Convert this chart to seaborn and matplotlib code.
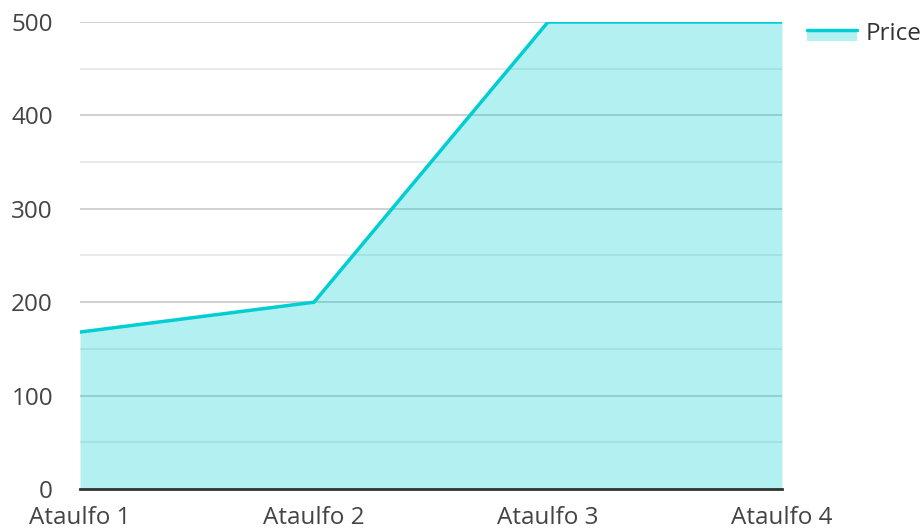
import matplotlib
matplotlib.use("Agg")
import matplotlib.pyplot as plt
import seaborn as sns
import pandas as pd
from matplotlib.lines import Line2D
from matplotlib.patches import Rectangle
from matplotlib.legend_handler import HandlerBase
from matplotlib.ticker import MultipleLocator

categories = ["Ataulfo 1", "Ataulfo 2", "Ataulfo 3", "Ataulfo 4"]
price = [168, 200, 500, 500]

df = pd.DataFrame({"name": categories, "Price": price})
df["pos"] = range(len(df))

sns.set_style("white")
plt.rcParams["font.family"] = ["Open Sans", "DejaVu Sans"]

color = "#00CED1"
fs = 17.5


# legend key: line on top of a light area strip
class LineAreaHandler(HandlerBase):
    def create_artists(self, legend, orig_handle, xdescent, ydescent,
                       width, height, fontsize, trans):
        y_line = -ydescent + height * 0.62
        rect = Rectangle((-xdescent, y_line - 11 * 0.72), width, 11 * 0.72,
                         facecolor=color, alpha=0.3, edgecolor="none",
                         transform=trans)
        line = Line2D([-xdescent, -xdescent + width], [y_line, y_line],
                      color=color, linewidth=2.5, transform=trans)
        return [rect, line]


fig = plt.figure(figsize=(9.24, 5.30), dpi=100)
ax = fig.add_axes([0.0866, 0.0774, 0.7597, 0.8811])

ax.fill_between(df["pos"], df["Price"], 0, color=color, alpha=0.3, linewidth=0, zorder=2)
sns.lineplot(data=df, x="pos", y="Price", color=color, linewidth=2.5, ax=ax, zorder=3)

ax.set_xlim(0, len(categories) - 1)
ax.set_ylim(0, 500)
ax.set_xticks(df["pos"])
ax.set_xticklabels(categories)
ax.yaxis.set_major_locator(MultipleLocator(100))
ax.yaxis.set_minor_locator(MultipleLocator(50))
ax.grid(which="major", axis="y", color="#c8c8c8", linewidth=1.2, zorder=1)
ax.grid(which="minor", axis="y", color="#e6e6e6", linewidth=1.2, zorder=1)
ax.set_axisbelow(True)
ax.set_xlabel("")
ax.set_ylabel("")

for side in ["top", "right", "left"]:
    ax.spines[side].set_visible(False)
ax.spines["bottom"].set_color("#333333")
ax.spines["bottom"].set_linewidth(2)
ax.spines["bottom"].set_zorder(4)

ax.tick_params(axis="both", which="both", length=0, labelsize=fs, labelcolor="#444444")
ax.tick_params(axis="y", pad=19.5)
ax.tick_params(axis="x", pad=12)

handle = object()
ax.legend([handle], ["Price"], handler_map={object: LineAreaHandler()},
          loc="upper left", bbox_to_anchor=(1.0356, 0.999),
          borderaxespad=0, borderpad=0, frameon=False, fontsize=fs,
          handlelength=2.05, handletextpad=0.37, labelcolor="#333333")

fig.savefig("out.png", dpi=100)
